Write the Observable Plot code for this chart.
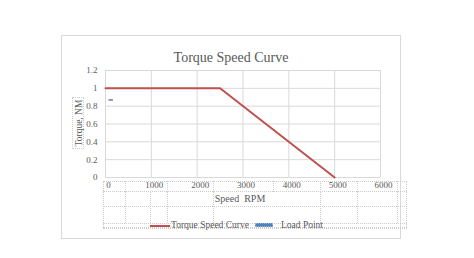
<!DOCTYPE html>
<html>
<head>
<meta charset="utf-8">
<script src="https://cdn.jsdelivr.net/npm/d3@7"></script>
<script src="https://cdn.jsdelivr.net/npm/@observablehq/plot@0.6"></script>
<style>
  html, body { margin: 0; padding: 0; background: #fff; }
  #wrap { position: relative; width: 474px; height: 258px; overflow: hidden; font-family: "Liberation Serif", serif; color: #595959; }
  #wrap svg { position: absolute; left: 0; top: 0; }
  .box { position: absolute; box-sizing: border-box; }
  .dot { position: absolute; box-sizing: border-box; border: 0 dotted #cccccc; }
  .lg { position: absolute; font-size: 9.5px; line-height: 10px; white-space: nowrap; }
</style>
</head>
<body>
<div id="wrap"></div>
<script>
// Data
const speedRPM = [0, 2500, 5000];
const torqueNM = [1, 1, 0];
const loadSpeed = [115];
const loadTorque = [0.87];
const xTicks = [0, 1000, 2000, 3000, 4000, 5000, 6000];
const yTicks = [0, 0.2, 0.4, 0.6, 0.8, 1, 1.2];
const yTickLabels = ["0", "0.2", "0.4", "0.6", "0.8", "1", "1.2"];
const seriesNames = ["Torque Speed Curve", "Load Point"];
const seriesColors = ["#c0504d", "#4f81bd"];

const curve = speedRPM.map((s, i) => ({s, t: torqueNM[i]}));
const load = loadSpeed.map((s, i) => ({s, t: loadTorque[i]}));

const dash = { draw(ctx, size) { const w = Math.sqrt(size) / 2; ctx.moveTo(-w, 0); ctx.lineTo(w, 0); } };

const grid = "#d9d9d9";
const txt = "#595959";

const chart = Plot.plot({
  width: 474,
  height: 258,
  marginLeft: 105,
  marginRight: 94,
  marginTop: 70,
  marginBottom: 81,
  style: { fontFamily: "Liberation Serif, serif", background: "transparent", color: txt },
  x: { domain: [0, 6000], axis: null },
  y: { domain: [0, 1.2], axis: null },
  marks: [
    Plot.ruleX(xTicks, { stroke: grid, strokeWidth: 1 }),
    Plot.ruleY(yTicks, { stroke: grid, strokeWidth: 1 }),
    Plot.line(curve, { x: "s", y: "t", stroke: seriesColors[0], strokeWidth: 2 }),
    Plot.dot(load, { x: "s", y: "t", symbol: dash, r: 2.5, stroke: "#4a5a7a", strokeWidth: 1.2, fill: "none" }),
    Plot.text(yTicks, { y: d => d, text: (d, i) => yTickLabels[i], frameAnchor: "left", dx: -8, textAnchor: "end", fontSize: 9, fill: txt }),
    Plot.text(xTicks, { x: d => d, text: d => String(d), frameAnchor: "bottom", dy: 10, dx: 3, fontSize: 9, fill: txt }),
    Plot.text(["Speed  RPM"], { frameAnchor: "bottom", dx: -3, dy: 24, fontSize: 10, fill: txt }),
    Plot.text(["Torque, NM"], { frameAnchor: "left", dx: -27, dy: -1, rotate: -90, textAnchor: "middle", fontSize: 9.5, fill: txt }),
    Plot.text(["Torque Speed Curve"], { frameAnchor: "top", dx: -12, dy: -18, fontSize: 14, fill: txt })
  ]
});

const wrap = document.getElementById("wrap");

function box(cls, l, t, w, h, css) {
  const d = document.createElement("div");
  d.className = cls;
  Object.assign(d.style, { left: l + "px", top: t + "px", width: w + "px", height: h + "px" }, css || {});
  wrap.appendChild(d);
  return d;
}
// outer chart border
box("box", 61, 35, 340, 204, { border: "1px solid #d9d9d9" });
wrap.appendChild(chart);

// data-table style dotted grid below plot
box("dot", 103, 181, 304, 48, { borderWidth: "1px" });
box("dot", 103, 191, 304, 1, { borderTopWidth: "1px" });
box("dot", 103, 206, 304, 1, { borderTopWidth: "1px" });
box("dot", 103, 223, 304, 5, { borderTopWidth: "1px", borderBottomWidth: "1px" });
[125, 167, 213, 273, 320, 357, 397].forEach(x => box("dot", x, 181, 1, 11, { borderLeftWidth: "1px" }));
[125, 150, 167, 213, 320, 357, 397].forEach(x => box("dot", x, 191, 1, 32, { borderLeftWidth: "1px" }));
// y label dotted box
box("dot", 72, 97, 12, 52, { borderWidth: "1px" });

// legend
box("box", 150, 225, 20, 2, { background: seriesColors[0] });
const l1 = box("lg", 171, 220, 80, 11); l1.textContent = seriesNames[0];
box("box", 255, 223, 18, 4, { background: seriesColors[1], border: "1px dotted #9bb4d8" });
const l2 = box("lg", 281, 220, 60, 11); l2.textContent = seriesNames[1];
</script>
</body>
</html>
